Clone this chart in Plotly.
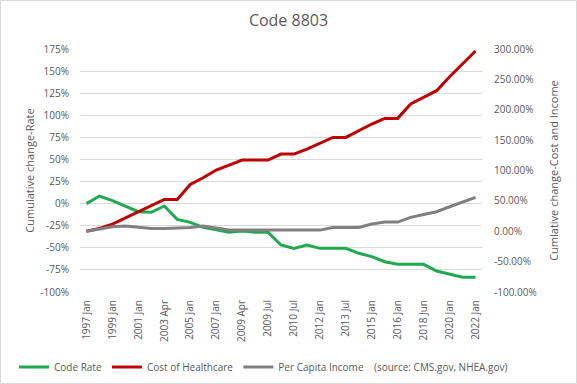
import plotly.graph_objects as go

categories = ["1997 Jan", "1998 Jan", "1999 Jan", "2000 Jan", "2001 Jan", "2002 Jan",
              "2003 Apr", "2004 Jan", "2005 Jan", "2006 Jan", "2007 Jan", "2008 Jan",
              "2009 Apr", "2009 Jun", "2009 Jul", "2010 Jan", "2010 Jul", "2011 Jan",
              "2012 Jan", "2013 Jan", "2013 Jul", "2014 Jan", "2015 Jan", "2015 Jul",
              "2016 Jan", "2017 Jan", "2018 Jun", "2019 Jan", "2020 Jan", "2021 Jan",
              "2022 Jan"]

code_rate = [0, 8.6, 3.4, -2.7, -9.1, -9.8, -2.7, -17.8, -21.2, -26.8, -29.8, -32.5,
             -31, -32.5, -32.5, -46.8, -50.6, -46.8, -50.6, -50.6, -50.6, -56.2, -60,
             -65.7, -68.7, -68.7, -68.7, -76.2, -80, -83.4, -83.4]

cost_healthcare = [0, 4.6, 11.8, 22.2, 32.1, 42, 52.4, 52.4, 77.1, 88.1, 100.7, 109,
                   117.2, 117.2, 117.2, 127.1, 127.1, 135.3, 144.6, 154.5, 154.5, 165.5,
                   176.5, 185.8, 185.8, 209.4, 220.4, 231.4, 254.4, 275.3, 296.7]

per_capita_income = [0, 4.1, 7.4, 8.5, 6.3, 4.6, 4.6, 5.2, 6.3, 8.5, 5.7, 1.9, 1.9, 1.9,
                     1.9, 0.8, 0.8, 1.9, 1.9, 6.3, 6.3, 6.3, 11.8, 15.1, 15.1, 22.8, 27.7,
                     32.1, 40.3, 48.6, 55.7]

left_ticks = list(range(-100, 176, 25))
right_ticks = list(range(-100, 301, 50))

W, H = 577, 384
L, R, T, B = 80, 482, 49, 292

FONT = "Open Sans"
TXT = "#595959"

fig = go.Figure()
fig.add_trace(go.Scatter(x=categories, y=code_rate, name="Code Rate", mode="lines",
                         line=dict(color="#1fa950", width=3), yaxis="y"))
fig.add_trace(go.Scatter(x=categories, y=cost_healthcare, name="Cost of Healthcare", mode="lines",
                         line=dict(color="#c00000", width=3), yaxis="y2"))
fig.add_trace(go.Scatter(x=categories, y=per_capita_income, name="Per Capita Income", mode="lines",
                         line=dict(color="#808080", width=3), yaxis="y2"))

fig.update_layout(
    width=W, height=H,
    margin=dict(l=L, r=W - R, t=T, b=H - B, autoexpand=False),
    paper_bgcolor="white", plot_bgcolor="white",
    font=dict(family=FONT, color=TXT, size=10),
    title=dict(text="Code 8803", x=0.5, xref="container", xanchor="center",
               y=1 - 20 / H, yref="container", yanchor="middle",
               font=dict(size=16, color=TXT, family=FONT)),
    xaxis=dict(type="category", categoryorder="array", categoryarray=categories,
               range=[-0.5, len(categories) - 0.5],
               tickmode="array", tickvals=categories[::2], ticktext=categories[::2],
               tickangle=-90, showgrid=False, zeroline=False, showline=False,
               ticks="", ticklabelstandoff=5, tickfont=dict(size=10, color=TXT)),
    yaxis=dict(range=[-100, 175], tickmode="array", tickvals=left_ticks,
               ticktext=[f"{v}%" for v in left_ticks],
               showgrid=True, gridcolor="#d9d9d9", gridwidth=1, zeroline=False,
               showline=False, ticks="", ticklabelstandoff=10,
               tickfont=dict(size=10, color=TXT),
               title=dict(text="Cumulative change-Rate", font=dict(size=11, color=TXT), standoff=3)),
    yaxis2=dict(range=[-100, 300], overlaying="y", side="right", tickmode="array",
                tickvals=right_ticks, ticktext=[f"{v:.2f}%" for v in right_ticks],
                showgrid=False, zeroline=False, showline=False, ticks="",
                ticklabelstandoff=11, tickfont=dict(size=10, color=TXT),
                title=dict(text="Cumlative change-Cost and Income", font=dict(size=11, color=TXT), standoff=14)),
    legend=dict(orientation="h", xref="container", yref="container",
                x=14 / W, xanchor="left", y=1 - 367 / H, yanchor="middle",
                font=dict(size=10, color=TXT), itemwidth=30, tracegroupgap=0,
                bgcolor="rgba(0,0,0,0)"),
    showlegend=True,
)

fig.add_annotation(text="(source: CMS.gov, NHEA.gov)", xref="paper", yref="paper",
                   x=(372 - L) / (R - L), y=(B - 367) / (B - T), xanchor="left", yanchor="middle",
                   showarrow=False, font=dict(size=10, color=TXT, family=FONT))

# chart border
fig.add_shape(type="rect", xref="paper", yref="paper",
              x0=(0.5 - L) / (R - L), x1=(W - 0.5 - L) / (R - L),
              y0=(B - (H - 0.5)) / (B - T), y1=(B - 0.5) / (B - T),
              line=dict(color="#d9d9d9", width=1), fillcolor="rgba(0,0,0,0)", layer="below")

fig.write_html("out.html", config={"displayModeBar": False},
               post_script="document.body.style.margin='0';document.body.style.padding='0';")
